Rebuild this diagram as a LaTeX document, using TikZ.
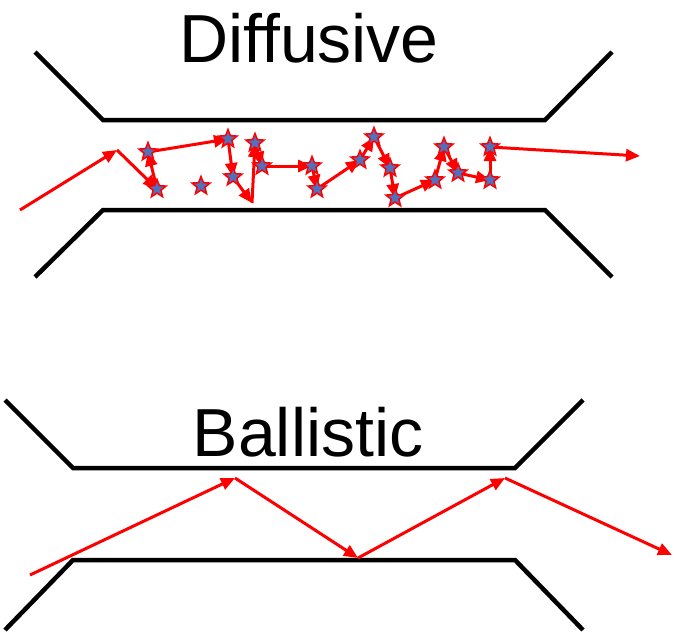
\documentclass[tikz,border=0pt]{standalone}
\usepackage{fontspec}
\setmainfont{Liberation Sans}
\usetikzlibrary{shapes.geometric,arrows.meta}
\begin{document}
\begin{tikzpicture}[x=1pt,y=-1pt,
 wall/.style={line width=4.5pt,black},
 ray/.style={red,line width=3pt,-{Triangle[length=14pt,width=12pt]}},
 st/.style={star,star points=5,star point ratio=2.3,fill={rgb,255:red,79;green,113;blue,190},draw=red,line width=1.5pt,minimum size=19pt,inner sep=0pt}]
\useasboundingbox (0,0) rectangle (685,634);
\node (t1) at (309,38) {\fontsize{68}{78}\selectfont Diffusive};
\node (t2) at (308,432) {\fontsize{68}{78}\selectfont Ballistic};
\draw[wall] (35,52)--(103,120)--(545,120)--(612,52);
\draw[wall] (35,277)--(103,210)--(545,210)--(612,277);
\draw[wall] (5,400)--(73,468)--(515,468)--(583,400);
\draw[wall] (5,630)--(73,560)--(515,560)--(583,630);
% ballistic
\coordinate (b0) at (30,575); \coordinate (b1) at (235,478);
\coordinate (b2) at (358,558); \coordinate (b3) at (505,478);
\coordinate (b4) at (672,555);
\draw[ray] (b0)--(b1); \draw[ray] (b1)--(b2); \draw[ray] (b2)--(b3); \draw[ray] (b3)--(b4);
% diffusive
\foreach \nm/\xx/\yy in {0/20/210,1/117/150,2/157/189,3/148/152,4/228/139,5/233/177,6/252/203,7/255/143,8/262/166,9/312/166,10/317/189,11/360/160,12/374/137,13/390/168,14/395/198,15/435/180,16/444/147,17/458/173,18/490/180,19/490/147,20/640/156}
  \coordinate (p\nm) at (\xx,\yy);
\foreach \ia/\ib in {0/1,1/2,2/3,3/4,4/5,5/6,6/7,7/8,8/9,9/10,10/11,11/12,12/13,13/14,14/15,15/16,16/17,17/18,18/19,19/20}
  \draw[ray] (p\ia)--(p\ib);
\foreach \ic in {2,3,4,5,7,8,9,10,11,12,13,14,15,16,17,18,19}
  \node[st] (s\ic) at (p\ic) {};
\node[st] (siso) at (201,186) {};
\end{tikzpicture}
\end{document}
